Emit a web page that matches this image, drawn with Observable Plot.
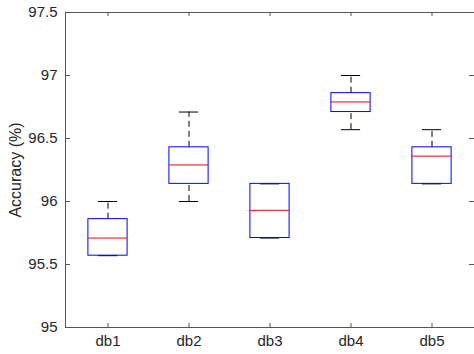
<!DOCTYPE html>
<html>
<head>
<meta charset="utf-8">
<script src="https://cdn.jsdelivr.net/npm/d3@7"></script>
<script src="https://cdn.jsdelivr.net/npm/@observablehq/plot@0.6"></script>
<style>
  html, body { margin: 0; padding: 0; background: #fff; }
  #chart svg { display: block; }
</style>
</head>
<body>
<div id="chart"></div>
<script>
const categories = ["db1", "db2", "db3", "db4", "db5"];
const whiskerLow  = [95.57, 96.00, 95.71, 96.57, 96.14];
const q1          = [95.57, 96.14, 95.71, 96.71, 96.14];
const median      = [95.71, 96.29, 95.93, 96.79, 96.36];
const q3          = [95.86, 96.43, 96.14, 96.86, 96.43];
const whiskerHigh = [96.00, 96.71, 96.14, 97.00, 96.57];
const yTicks = [95, 95.5, 96, 96.5, 97, 97.5];
const yLabel = "Accuracy (%)";

const rows = categories.map((c, i) => ({
  cat: c, lo: whiskerLow[i], q1: q1[i], med: median[i], q3: q3[i], hi: whiskerHigh[i]
}));

const W = 474, H = 354;
const mL = 65, mR = 0, mT = 12, mB = 27;
const fw = W - mL - mR, fh = H - mT - mB;
const band = fw / categories.length;
const boxInset = (band - 40) / 2;
const capInset = (band - 20) / 2;
const axisColor = "#555";
const textColor = "#262626";
const font = "Liberation Sans, Arial, sans-serif";

const chart = Plot.plot({
  width: W, height: H,
  marginLeft: mL, marginRight: mR, marginTop: mT, marginBottom: mB,
  style: {fontFamily: font, fontSize: "14px", color: textColor, background: "#fff"},
  x: {type: "band", domain: categories, padding: 0, axis: null},
  y: {domain: [95, 97.5], axis: null},
  marks: [
    // frame lines (top, bottom, left)
    Plot.ruleY([95, 97.5], {stroke: axisColor, strokeWidth: 1}),
    Plot.frame({anchor: "left", stroke: axisColor}),
    // inward y ticks left and right
    Plot.tickY(yTicks, {y: d => d, stroke: axisColor, insetRight: fw - 5}),
    Plot.tickY(yTicks, {y: d => d, stroke: axisColor, insetLeft: fw - 5}),
    // inward x ticks bottom and top
    Plot.tickX(categories, {x: d => d, stroke: axisColor, insetTop: fh - 4}),
    Plot.tickX(categories, {x: d => d, stroke: axisColor, insetBottom: fh - 4}),
    // tick labels
    Plot.text(yTicks, {y: d => d, text: d => String(d), frameAnchor: "left", textAnchor: "end", dx: -8, fill: textColor, fontSize: 15}),
    Plot.text(categories, {x: d => d, text: d => d, frameAnchor: "bottom", dy: 18, fill: textColor, fontSize: 15}),
    Plot.text([yLabel], {text: d => d, frameAnchor: "left", textAnchor: "middle", rotate: -90, dx: -50, fill: textColor, fontSize: 16}),
    // whiskers
    Plot.ruleX(rows, {x: "cat", y1: "q3", y2: "hi", stroke: "#000", strokeDasharray: "6,4"}),
    Plot.ruleX(rows, {x: "cat", y1: "lo", y2: "q1", stroke: "#000", strokeDasharray: "6,4"}),
    Plot.tickY(rows, {x: "cat", y: "hi", stroke: "#000", insetLeft: capInset, insetRight: capInset}),
    Plot.tickY(rows, {x: "cat", y: "lo", stroke: "#000", insetLeft: capInset, insetRight: capInset}),
    // boxes
    Plot.rectY(rows, {x: "cat", y1: "q1", y2: "q3", fill: "none", stroke: "#0000ff", insetLeft: boxInset, insetRight: boxInset}),
    // medians
    Plot.tickY(rows, {x: "cat", y: "med", stroke: "#ff0000", insetLeft: boxInset, insetRight: boxInset})
  ]
});
document.getElementById("chart").appendChild(chart);
</script>
</body>
</html>
